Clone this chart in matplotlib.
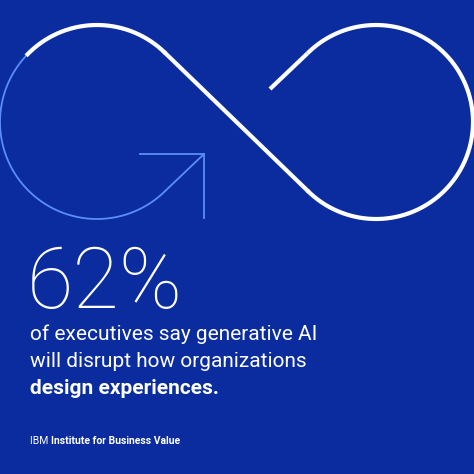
import numpy as np
import matplotlib
matplotlib.use("Agg")
import matplotlib.pyplot as plt

headline = "62%"
lines = ["of executives say generative AI", "will disrupt how organizations"]
bold_line = "design experiences."
footer_a = "IBM "
footer_b = "Institute for Business Value"

BG = "#0a2c9e"
LB = "#5b8ef7"
fig = plt.figure(figsize=(4.74, 4.74), dpi=100, facecolor=BG)
ax = fig.add_axes([0, 0, 1, 1])
ax.set_xlim(0, 474); ax.set_ylim(474, 0); ax.axis("off"); ax.set_facecolor(BG)

r = 97
cl = (97, 122); cr = (376, 122)
def arc(c, a0, a1, **kw):
    t = np.radians(np.linspace(a0, a1, 200))
    ax.plot(c[0] + r*np.cos(t), c[1] - r*np.sin(t), solid_capstyle="butt", **kw)
d = r*np.cos(np.radians(45))
arc(cl, 45, 137, color="white", lw=3)
ax.plot([cl[0]+d, cr[0]-d], [cl[1]-d, cr[1]+d], color="white", lw=3)
arc(cr, -135, 135, color="white", lw=3)
ax.plot([cr[0]-d, 270], [cr[1]-d, 89], color="white", lw=3, solid_capstyle="butt")
arc(cl, 137, 315, color=LB, lw=1.3)
ax.plot([cl[0]+d, 204], [cl[1]+d, 154], color=LB, lw=1.3)
ax.plot([140, 204, 204], [154, 154, 218], color=LB, lw=1.3)

ax.text(27, 308, headline, color="white", fontsize=61, family="Roboto", fontweight="light", va="baseline")
for i, s in enumerate(lines):
    ax.text(30, 340 + 27*i, s, color="white", fontsize=15, family="Roboto", va="baseline")
ax.text(30, 394, bold_line, color="white", fontsize=15, family="Roboto", fontweight="bold", va="baseline")
t = ax.text(30, 444, footer_a, color="white", fontsize=7.5, family="Roboto", va="baseline")
fig.canvas.draw()
bb = t.get_window_extent()
x2 = ax.transData.inverted().transform((bb.x1, 0))[0]
ax.text(x2, 444, footer_b, color="white", fontsize=7.5, family="Roboto", fontweight="bold", va="baseline")
fig.savefig("out.png", dpi=100, facecolor=BG)
